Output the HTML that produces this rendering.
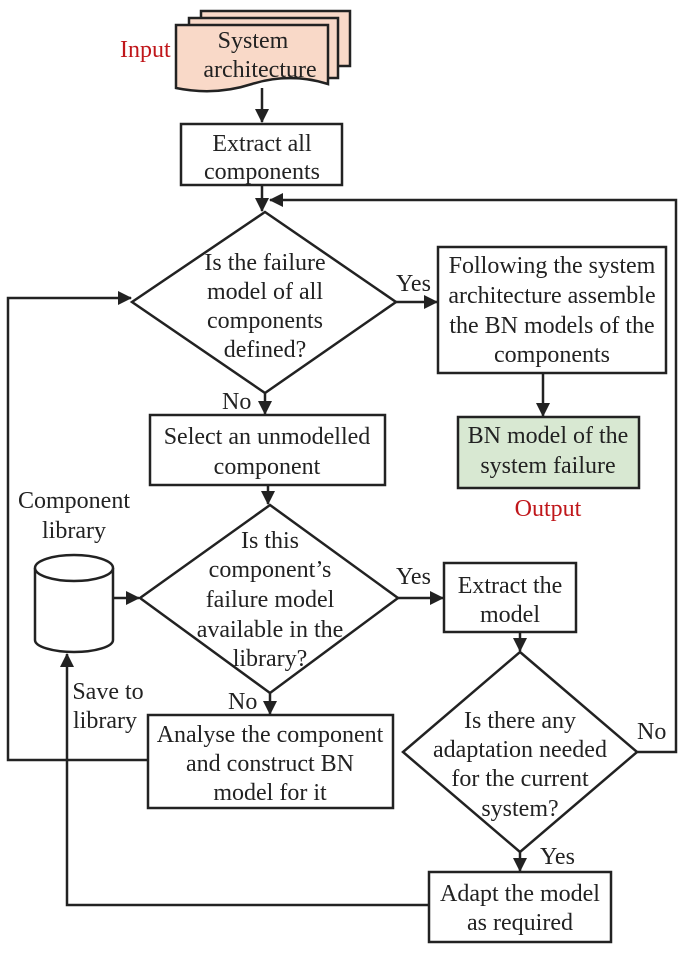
<!DOCTYPE html>
<html><head><style>
body{margin:0;background:#fff}
text{font-family:"Liberation Serif",serif;font-size:24px;fill:#222}
</style></head><body>
<svg width="685" height="949" viewBox="0 0 685 949" xmlns="http://www.w3.org/2000/svg">
<defs><marker id="b" markerWidth="14" markerHeight="14" refX="13" refY="7" orient="auto" markerUnits="userSpaceOnUse"><path d="M0,0 L14,7 L0,14z" fill="#222"/></marker></defs>
<g stroke="#222" stroke-width="2.5" fill="none">
<path d="M201,11 H350 V66 H201z" fill="#f9d9c8"/>
<path d="M189,18 H338 V78 H189z" fill="#f9d9c8"/>
<path d="M176,25 H328 V84 Q290,72 252,84 Q215,96 176,88z" fill="#f9d9c8"/>
<line x1="262" y1="88" x2="262" y2="122" marker-end="url(#b)"/>
<rect x="181" y="124" width="161" height="61" fill="#fff"/>
<line x1="262" y1="185" x2="262" y2="211" marker-end="url(#b)"/>
<polyline points="637,752 676,752 676,200 270,200" marker-end="url(#b)"/>
<polygon points="265,212 396,302 265,393 132,302" fill="#fff"/>
<line x1="396" y1="302" x2="437" y2="302" marker-end="url(#b)"/>
<rect x="438" y="247" width="228" height="126" fill="#fff"/>
<line x1="543" y1="373" x2="543" y2="416" marker-end="url(#b)"/>
<rect x="458" y="417" width="181" height="71" fill="#d8e8d2"/>
<line x1="265" y1="393" x2="265" y2="414" marker-end="url(#b)"/>
<rect x="150" y="415" width="235" height="70" fill="#fff"/>
<line x1="268" y1="485" x2="268" y2="504" marker-end="url(#b)"/>
<polygon points="270,505 398,598 270,693 140,598" fill="#fff"/>
<line x1="113" y1="598" x2="139" y2="598" marker-end="url(#b)"/>
<path d="M35,568 V640 A39,12 0 0 0 113,640 V568" fill="#fff"/>
<ellipse cx="74" cy="568" rx="39" ry="13" fill="#fff"/>
<line x1="398" y1="598" x2="443" y2="598" marker-end="url(#b)"/>
<rect x="444" y="563" width="132" height="69" fill="#fff"/>
<line x1="520" y1="632" x2="520" y2="651" marker-end="url(#b)"/>
<polygon points="520,652 637,752 520,852 403,752" fill="#fff"/>
<line x1="520" y1="852" x2="520" y2="871" marker-end="url(#b)"/>
<rect x="429" y="872" width="182" height="70" fill="#fff"/>
<polyline points="429,905 67,905 67,654" marker-end="url(#b)"/>
<line x1="270" y1="693" x2="270" y2="714" marker-end="url(#b)"/>
<rect x="148" y="715" width="245" height="93" fill="#fff"/>
<polyline points="148,760 8,760 8,298 131,298" marker-end="url(#b)"/>
</g>
<g text-anchor="middle">
<text x="253" y="48">System</text><text x="260" y="77">architecture</text>
<text x="262" y="151">Extract all</text><text x="262" y="179">components</text>
<text x="265" y="270">Is the failure</text><text x="265" y="299">model of all</text><text x="265" y="328">components</text><text x="265" y="357">defined?</text>
<text x="552" y="273">Following the system</text><text x="552" y="303">architecture assemble</text><text x="552" y="333">the BN models of the</text><text x="552" y="362">components</text>
<text x="548" y="443">BN model of the</text><text x="548" y="473">system failure</text>
<text x="548" y="516" style="fill:#c0171b">Output</text>
<text x="267" y="444">Select an unmodelled</text><text x="267" y="474">component</text>
<text x="74" y="508">Component</text><text x="74" y="538">library</text>
<text x="270" y="548">Is this</text><text x="270" y="577">component’s</text><text x="270" y="607">failure model</text><text x="270" y="637">available in the</text><text x="270" y="666">library?</text>
<text x="510" y="593">Extract the</text><text x="510" y="622">model</text>
<text x="520" y="728">Is there any</text><text x="520" y="757">adaptation needed</text><text x="520" y="786">for the current</text><text x="520" y="816">system?</text>
<text x="520" y="901">Adapt the model</text><text x="520" y="930">as required</text>
<text x="270" y="742">Analyse the component</text><text x="270" y="771">and construct BN</text><text x="270" y="800">model for it</text>
<text x="108" y="699">Save to</text><text x="105" y="728">library</text>
</g>
<text x="120" y="57" style="fill:#c0171b">Input</text>
<text x="396" y="291">Yes</text>
<text x="222" y="409">No</text>
<text x="396" y="584">Yes</text>
<text x="228" y="709">No</text>
<text x="637" y="739">No</text>
<text x="540" y="864">Yes</text>
</svg>
</body></html>
